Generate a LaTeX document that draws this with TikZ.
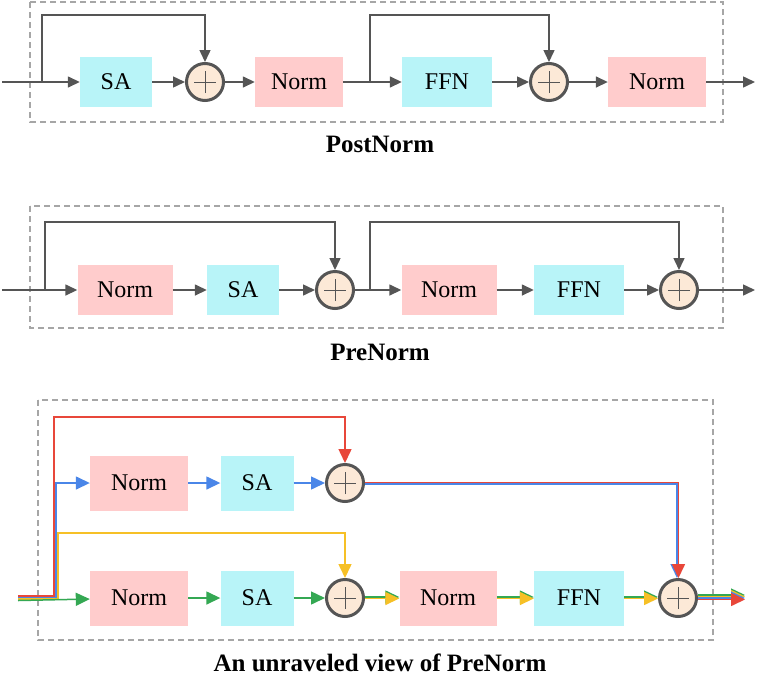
\documentclass[tikz,border=0pt]{standalone}
\usepackage{fontspec}
\setmainfont{Liberation Serif}
\usetikzlibrary{arrows.meta}
\definecolor{ln}{HTML}{555555}
\definecolor{pk}{HTML}{FFCCCC}
\definecolor{cy}{HTML}{B8F4F8}
\definecolor{pl}{HTML}{FCE9D7}
\definecolor{cr}{HTML}{E8473A}
\definecolor{cb}{HTML}{4A86E8}
\definecolor{cyl}{HTML}{F6C026}
\definecolor{cg}{HTML}{34A853}
\newcommand{\boxfont}{\fontsize{24pt}{28pt}\selectfont}
\newcommand{\ttlfont}{\bfseries\fontsize{25pt}{29pt}\selectfont}
\tikzset{
 x=1pt,y=-1pt,
 box/.style={minimum height=50pt,font=\boxfont,inner sep=0pt},
 nb/.style={box,fill=pk,minimum width=95pt},
 sb/.style={box,fill=cy,minimum width=72pt},
 fb/.style={box,fill=cy,minimum width=90pt},
 plus/.style={circle,draw=ln,line width=3pt,fill=pl,minimum size=37pt,inner sep=0pt,
   path picture={\draw[ln,line width=1pt] ([xshift=-11pt]path picture bounding box.center)--([xshift=11pt]path picture bounding box.center)
   ([yshift=-11pt]path picture bounding box.center)--([yshift=11pt]path picture bounding box.center);}},
 ar/.style={line width=1.5pt,-{Triangle[length=12pt,width=11pt]}},
 gl/.style={ar,draw=ln,color=ln},
 dbox/.style={draw=gray!70,line width=1.2pt,dash pattern=on 6pt off 4pt},
 ttl/.style={font=\ttlfont}
}
\begin{document}
\begin{tikzpicture}
\useasboundingbox (0,0) rectangle (759,678);
% PostNorm
\draw[dbox] (30,2) rectangle (723,122);
\coordinate (i1) at (2,82);
\node[sb] (sa1) at (116,82) {SA};
\node[plus] (p1) at (205,82) {};
\node[nb,minimum width=88pt] (n1) at (299,82) {Norm};
\node[fb] (f1) at (447,82) {FFN};
\node[plus] (p2) at (549,82) {};
\node[nb,minimum width=98pt] (n2) at (657,82) {Norm};
\coordinate (o1) at (755,82);
\draw[gl] (i1)--(sa1); \draw[gl] (sa1)--(p1); \draw[gl] (p1)--(n1);
\draw[gl] (n1)--(f1); \draw[gl] (f1)--(p2); \draw[gl] (p2)--(n2); \draw[gl] (n2)--(o1);
\draw[gl] (42,82)--(42,15)-|(p1);
\draw[gl] (370,82)--(370,15)-|(p2);
\node[ttl] (t1) at (380,144) {PostNorm};
% PreNorm
\draw[dbox] (30,206) rectangle (723,328);
\coordinate (i2) at (2,290);
\node[nb] (n3) at (125,290) {Norm};
\node[sb] (sa2) at (243,290) {SA};
\node[plus] (p3) at (335,290) {};
\node[nb] (n4) at (449,290) {Norm};
\node[fb] (f2) at (579,290) {FFN};
\node[plus] (p4) at (679,290) {};
\coordinate (o2) at (755,290);
\draw[gl] (i2)--(n3); \draw[gl] (n3)--(sa2); \draw[gl] (sa2)--(p3); \draw[gl] (p3)--(n4);
\draw[gl] (n4)--(f2); \draw[gl] (f2)--(p4); \draw[gl] (p4)--(o2);
\draw[gl] (45,290)--(45,222)-|(p3);
\draw[gl] (370,290)--(370,222)-|(p4);
\node[ttl] (t2) at (380,352) {PreNorm};
% Unraveled
\draw[dbox] (38,400) rectangle (713,640);
\node[nb,minimum width=98pt,minimum height=55pt] (n5) at (139,483) {Norm};
\node[sb,minimum width=73pt,minimum height=55pt] (sa3) at (257,483) {SA};
\node[plus] (p5) at (345,483) {};
\node[nb,minimum width=98pt,minimum height=55pt] (n6) at (139,598) {Norm};
\node[sb,minimum width=73pt,minimum height=55pt] (sa4) at (257,598) {SA};
\node[plus] (p6) at (345,598) {};
\node[nb,minimum width=97pt,minimum height=55pt] (n7) at (448,598) {Norm};
\node[fb,minimum height=55pt] (f3) at (579,598) {FFN};
\node[plus] (p7) at (678,598) {};
\tikzset{cl/.style={line width=1.5pt,draw=#1,-{Triangle[length=14pt,width=13pt]},color=#1}}
% red
\draw[cl=cr] (18,596)--(54,596)--(54,417)-|(p5);
% blue
\draw[cl=cb] (18,597.5)--(56,597.5)--(56,483)--(n5);
\draw[cl=cb] (n5)--(sa3);
\draw[cl=cb] (sa3)--(p5);
\draw[cl=cb] (p5.east)++(0,1)-|([xshift=-1pt]p7.north);
\draw[cl=cr] (p5.east)++(0,-0.5)-|([xshift=0.5pt]p7.north);
% yellow
\draw[cl=cyl] (18,599)--(58,599)--(58,533)-|(p6);
% green
\draw[cl=cg] (18,600.5)--(n6);
\draw[cl=cg] (n6)--(sa4);
\draw[cl=cg] (sa4)--(p6);
\draw[cl=cg] ([yshift=1pt]p6.east)--([yshift=1pt]n7.west);
\draw[cl=cyl] ([yshift=-0.5pt]p6.east)--([yshift=-0.5pt]n7.west);
\draw[cl=cg] ([yshift=1pt]n7.east)--([yshift=1pt]f3.west);
\draw[cl=cyl] ([yshift=-0.5pt]n7.east)--([yshift=-0.5pt]f3.west);
\draw[cl=cg] ([yshift=1pt]f3.east)--([yshift=1pt]p7.west);
\draw[cl=cyl] ([yshift=-0.5pt]f3.east)--([yshift=-0.5pt]p7.west);
\coordinate (o3) at (745,598);
\draw[cl=cg] ([yshift=3pt]p7.east)--([yshift=3pt]o3);
\draw[cl=cyl] ([yshift=1.5pt]p7.east)--([yshift=1.5pt]o3);
\draw[cl=cb] ([yshift=0pt]p7.east)--([yshift=0pt]o3);
\draw[cl=cr] ([yshift=-1.5pt]p7.east)--([yshift=-1.5pt]o3);
\node[ttl] (t3) at (380,663) {An unraveled view of PreNorm};
\end{tikzpicture}
\end{document}
